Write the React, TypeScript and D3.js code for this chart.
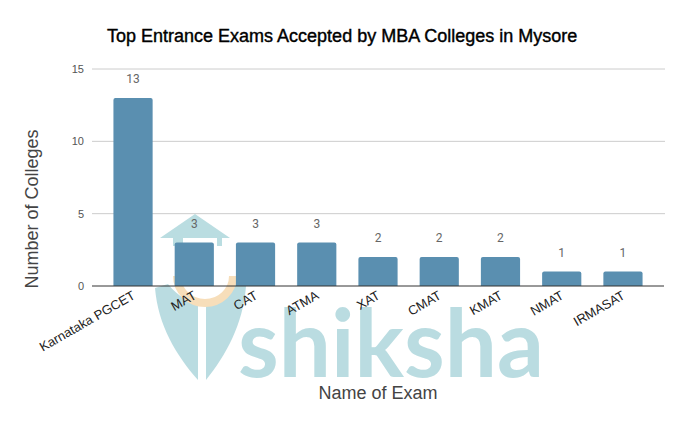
import React from "react";
import * as d3 from "d3";

const exams = ["Karnataka PGCET", "MAT", "CAT", "ATMA", "XAT", "CMAT", "KMAT", "NMAT", "IRMASAT"];
const colleges = [13, 3, 3, 3, 2, 2, 2, 1, 1];
const yTicks = [0, 5, 10, 15];
const title = "Top Entrance Exams Accepted by MBA Colleges in Mysore";
const xTitle = "Name of Exam";
const yTitle = "Number of Colleges";

const W = 686;
const H = 424;
const left = 92;
const right = 664;
const top = 69;
const bottom = 286;

export default function App() {
  const x = d3.scaleBand<string>().domain(exams).range([left, right]).paddingInner(0.36).paddingOuter(0.35);
  const y = d3.scaleLinear().domain([0, 15]).range([bottom, top]);
  const wm = "#b3d9de";
  return (
    <svg width={W} height={H} style={{ position: "absolute", left: 0, top: 0, background: "#fff" }}>
      <rect width={W} height={H} fill="#fff" />
      <text x={107} y={42} fontFamily="Liberation Sans, Arial, sans-serif" fontSize={18} fill="#000" stroke="#000" strokeWidth={0.4}>{title}</text>
      {yTicks.map((t) => (
        <g key={t}>
          {t !== 0 && <line x1={left} x2={right + 1} y1={y(t)} y2={y(t)} stroke="#cccccc" strokeWidth={1} />}
          <text x={84} y={y(t) + 4} textAnchor="end" fontFamily="Liberation Sans, Arial, sans-serif" fontSize={11} fill="#555">{t}</text>
        </g>
      ))}
      {/* watermark */}
      <g opacity={0.9}>
        <path d="M195,214 L230,238 L222,238 L222,246 L217,246 L217,238 L183,238 L183,246 L173,246 L173,238 L160,238 Z" fill={wm} />
        <path d="M155,288 C158,325 176,355 198,380 L198,302 C190,302 178,297 168,284 Z" fill={wm} />
        <path d="M246,286 C243,325 226,355 206,380 L206,302 C216,302 229,295 237,280 Z" fill={wm} />
        <path d="M177,276 A27,26 0 0 0 233,276" fill="none" stroke="#f7dbb3" strokeWidth={8} />
        <text x={238} y={377} fontFamily="Lato, sans-serif" fontWeight={700} fontSize={94} fill={wm} textLength={306} lengthAdjust="spacingAndGlyphs">shiksha</text>
      </g>
      {exams.map((e, i) => (
        <g key={e}>
          <path
            d={`M${x(e)!},${y(0)} L${x(e)!},${y(colleges[i]) + 2} Q${x(e)!},${y(colleges[i])} ${x(e)! + 2},${y(colleges[i])} L${x(e)! + x.bandwidth() - 2},${y(colleges[i])} Q${x(e)! + x.bandwidth()},${y(colleges[i])} ${x(e)! + x.bandwidth()},${y(colleges[i]) + 2} L${x(e)! + x.bandwidth()},${y(0)} Z`}
            fill="#5a8fb0"
          />
          <text x={x(e)! + x.bandwidth() / 2} y={y(colleges[i]) - 15} textAnchor="middle" fontFamily="Roboto, sans-serif" fontSize={12} fill="#666">{colleges[i]}</text>
          <text
            transform={`translate(${x(e)! + x.bandwidth() / 2 + 3},${y(0) + 12}) rotate(-30)`}
            textAnchor="end"
            fontFamily="Liberation Sans, Arial, sans-serif"
            fontSize={13}
            fill="#222"
          >{e}</text>
        </g>
      ))}
      <line x1={left} x2={right} y1={y(0)} y2={y(0)} stroke="#333" strokeWidth={1} />
      <text transform={`translate(38,209) rotate(-90)`} textAnchor="middle" fontFamily="Liberation Sans, Arial, sans-serif" fontSize={18} fill="#444">{yTitle}</text>
      <text x={378} y={399} textAnchor="middle" fontFamily="Liberation Sans, Arial, sans-serif" fontSize={18} fill="#444">{xTitle}</text>
    </svg>
  );
}
